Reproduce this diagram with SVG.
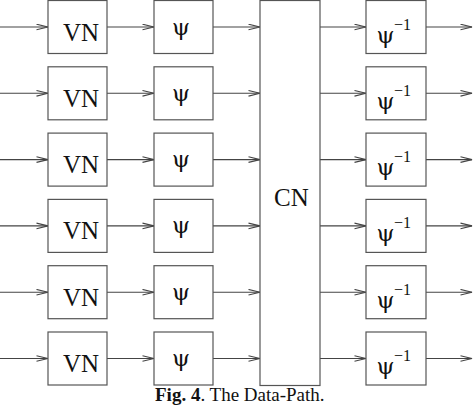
<svg xmlns="http://www.w3.org/2000/svg" width="474" height="410" viewBox="0 0 474 410">
<style>
.box{fill:#fff;stroke:#555;stroke-width:1.2}
.con{stroke:#444;stroke-width:1.1;fill:none}
.t{font-family:"Liberation Serif","Times New Roman",serif;fill:#111}
.lab{font-size:25px}
.psi{font-family:"DejaVu Serif",serif;font-size:23px}
.sup{font-size:16px}
.cap{font-size:19px}
</style>
<defs>
<marker id="ah" markerUnits="userSpaceOnUse" markerWidth="14" markerHeight="8" refX="12" refY="3.5" orient="auto" viewBox="0 0 14 8">
<path d="M0.5,0.7 L12,3.5 L0.5,6.3" fill="none" stroke="#444" stroke-width="1.1"/>
</marker>
<g id="row">
<line x1="0" y1="0" x2="48" y2="0" marker-end="url(#ah)"/>
<line x1="107" y1="0" x2="154" y2="0" marker-end="url(#ah)"/>
<line x1="213" y1="0" x2="260" y2="0" marker-end="url(#ah)"/>
<line x1="320" y1="0" x2="366" y2="0" marker-end="url(#ah)"/>
<line x1="426" y1="0" x2="472" y2="0" marker-end="url(#ah)"/>
</g>
</defs>
<rect width="474" height="410" fill="#fff"/>
<g id="connectors" class="con">
<use href="#row" y="27"/>
<use href="#row" y="93.3"/>
<use href="#row" y="159.6"/>
<use href="#row" y="225.9"/>
<use href="#row" y="292.2"/>
<use href="#row" y="358.5"/>
</g>
<g id="cn"><rect class="box" x="260" y="0.5" width="60" height="385"/><text class="t lab" x="274" y="206">CN</text></g>
<g id="vn1"><rect class="box" x="48" y="0.5" width="59" height="53"/><text class="t lab" x="63" y="40.5">VN</text></g>
<g id="vn2"><rect class="box" x="48" y="66.8" width="59" height="53"/><text class="t lab" x="63" y="106.8">VN</text></g>
<g id="vn3"><rect class="box" x="48" y="133.1" width="59" height="53"/><text class="t lab" x="63" y="173.1">VN</text></g>
<g id="vn4"><rect class="box" x="48" y="199.4" width="59" height="53"/><text class="t lab" x="63" y="239.4">VN</text></g>
<g id="vn5"><rect class="box" x="48" y="265.7" width="59" height="53"/><text class="t lab" x="63" y="305.7">VN</text></g>
<g id="vn6"><rect class="box" x="48" y="332" width="59" height="53"/><text class="t lab" x="63" y="372">VN</text></g>
<g id="psi1"><rect class="box" x="154" y="0.5" width="59" height="53"/><text class="t psi" x="181" y="34.5" text-anchor="middle">ψ</text></g>
<g id="psi2"><rect class="box" x="154" y="66.8" width="59" height="53"/><text class="t psi" x="181" y="100.8" text-anchor="middle">ψ</text></g>
<g id="psi3"><rect class="box" x="154" y="133.1" width="59" height="53"/><text class="t psi" x="181" y="167.1" text-anchor="middle">ψ</text></g>
<g id="psi4"><rect class="box" x="154" y="199.4" width="59" height="53"/><text class="t psi" x="181" y="233.4" text-anchor="middle">ψ</text></g>
<g id="psi5"><rect class="box" x="154" y="265.7" width="59" height="53"/><text class="t psi" x="181" y="299.7" text-anchor="middle">ψ</text></g>
<g id="psi6"><rect class="box" x="154" y="332" width="59" height="53"/><text class="t psi" x="181" y="366" text-anchor="middle">ψ</text></g>
<g id="ipsi1"><rect class="box" x="366" y="0.5" width="60" height="53"/><text class="t psi" x="385.5" y="42.5" text-anchor="middle">ψ</text><text class="t sup" x="394" y="29.5">−1</text></g>
<g id="ipsi2"><rect class="box" x="366" y="66.8" width="60" height="53"/><text class="t psi" x="385.5" y="108.8" text-anchor="middle">ψ</text><text class="t sup" x="394" y="95.8">−1</text></g>
<g id="ipsi3"><rect class="box" x="366" y="133.1" width="60" height="53"/><text class="t psi" x="385.5" y="175.1" text-anchor="middle">ψ</text><text class="t sup" x="394" y="162.1">−1</text></g>
<g id="ipsi4"><rect class="box" x="366" y="199.4" width="60" height="53"/><text class="t psi" x="385.5" y="241.4" text-anchor="middle">ψ</text><text class="t sup" x="394" y="228.4">−1</text></g>
<g id="ipsi5"><rect class="box" x="366" y="265.7" width="60" height="53"/><text class="t psi" x="385.5" y="307.7" text-anchor="middle">ψ</text><text class="t sup" x="394" y="294.7">−1</text></g>
<g id="ipsi6"><rect class="box" x="366" y="332" width="60" height="53"/><text class="t psi" x="385.5" y="374" text-anchor="middle">ψ</text><text class="t sup" x="394" y="361">−1</text></g>
<text class="t cap" x="155" y="401"><tspan font-weight="bold">Fig. 4</tspan>. The Data-Path.</text>
</svg>
